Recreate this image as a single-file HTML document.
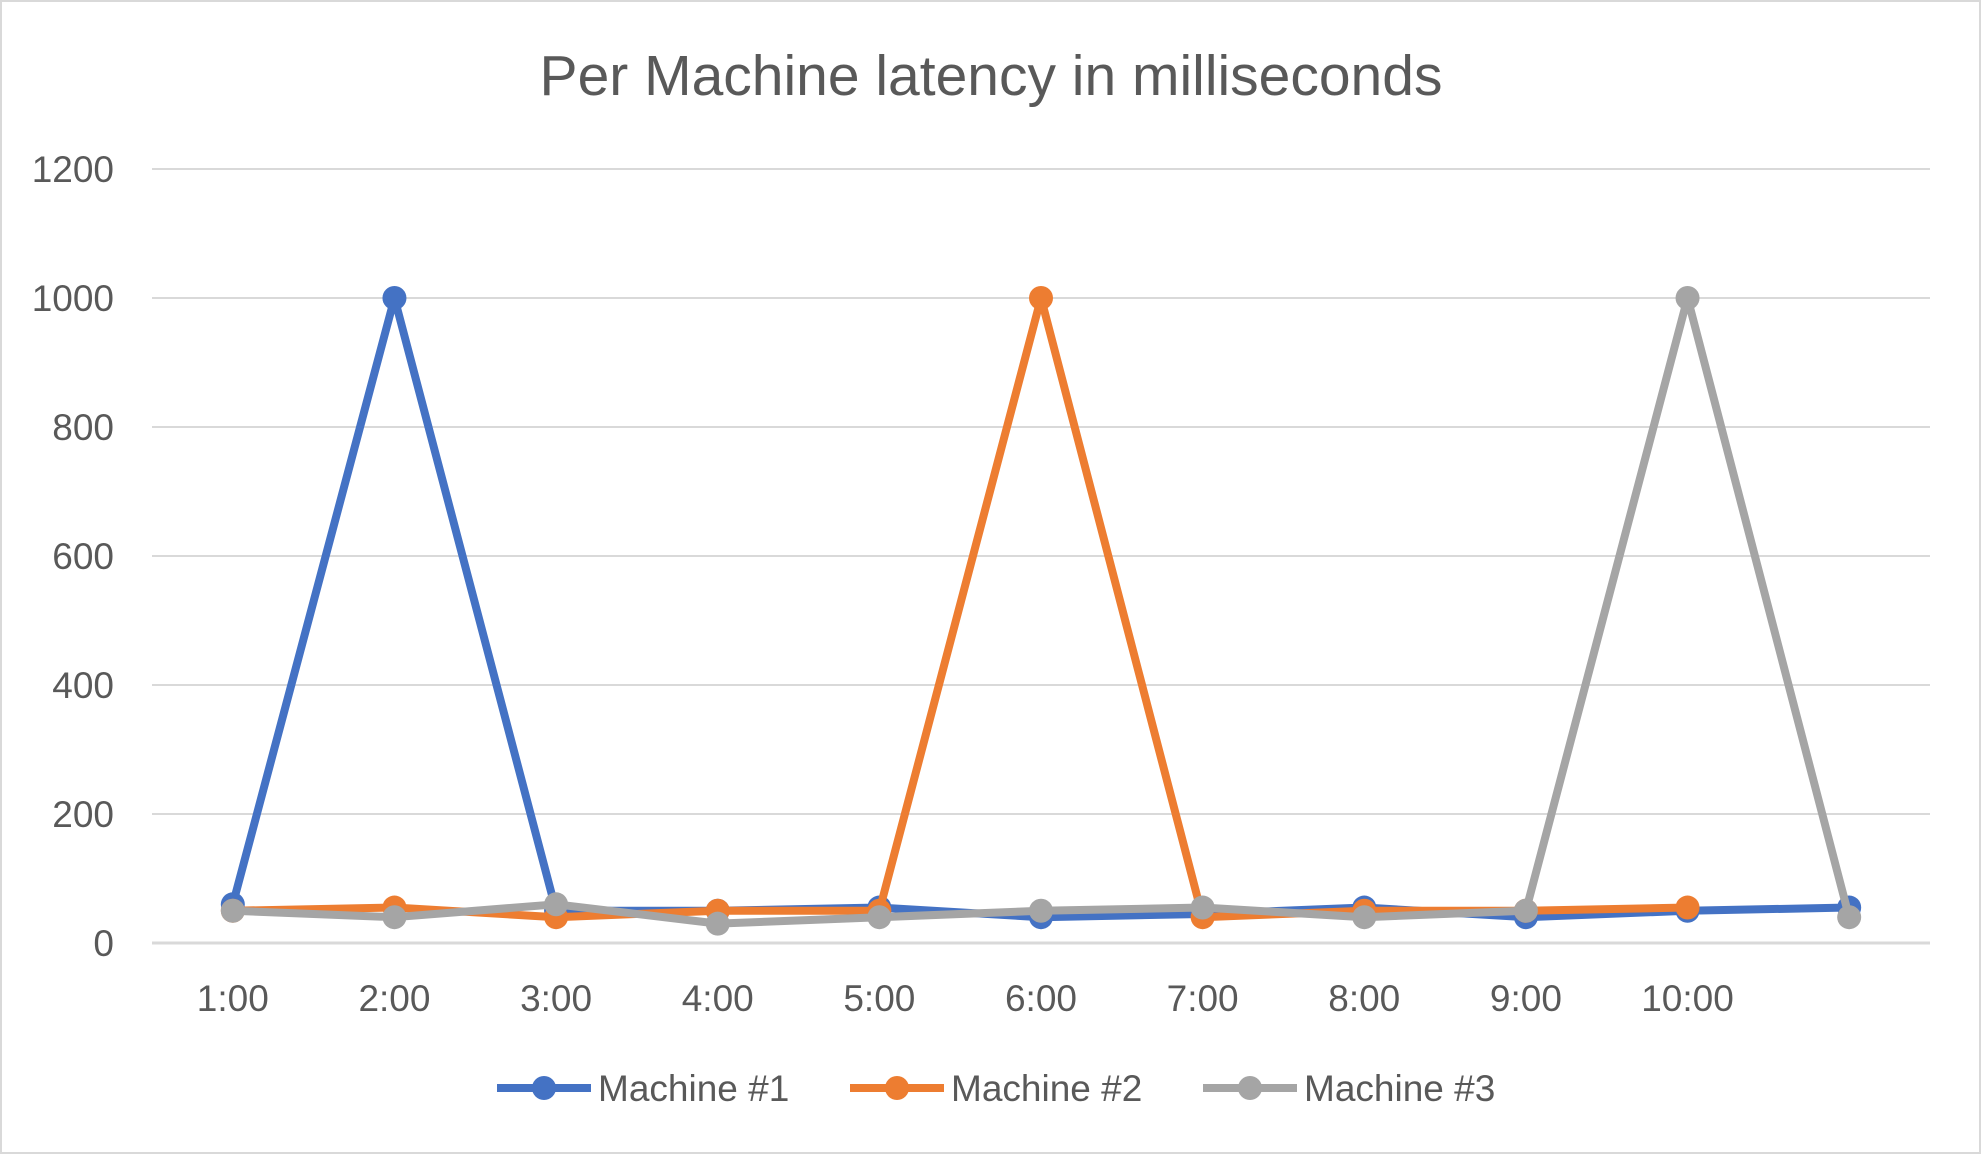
<!DOCTYPE html>
<html><head><meta charset="utf-8"><style>
html,body{margin:0;padding:0;background:#fff}
svg{display:block;font-family:"Liberation Sans",sans-serif}
</style></head><body>
<svg id="chart" width="1982" height="1157" viewBox="0 0 1982 1157">
<rect x="1" y="1" width="1979" height="1152" fill="#fff" stroke="#d9d9d9" stroke-width="2"/>
<text x="991" y="95" text-anchor="middle" font-size="57" fill="#595959">Per Machine latency in milliseconds</text>
<g id="grid"></g><g id="series"></g><g id="legend"></g>
</svg>
<script>
const categories=["1:00","2:00","3:00","4:00","5:00","6:00","7:00","8:00","9:00","10:00",""];
const yTicks=[0,200,400,600,800,1000,1200];
const machine1=[60,1000,50,50,55,40,45,55,40,50,55];
const machine2=[50,55,40,50,50,1000,40,50,50,55,null];
const machine3=[50,40,60,30,40,50,55,40,50,1000,40];
const seriesNames=["Machine #1","Machine #2","Machine #3"];
const colors=["#4472c4","#ed7d31","#a5a5a5"];
const NS="http://www.w3.org/2000/svg";
const x0=152,x1=1930,y0=943,y1=169,yMax=1200;
const step=(x1-x0)/categories.length;
const xs=i=>x0+step*(i+0.5);
const ys=v=>y0-(v/yMax)*(y0-y1);
function mk(t,a,p){const e=document.createElementNS(NS,t);for(const k in a)e.setAttribute(k,a[k]);p.appendChild(e);return e;}
const grid=document.getElementById('grid');
yTicks.forEach(v=>{
 const l=mk('line',{x1:x0,x2:x1,y1:ys(v),y2:ys(v),stroke:'#d9d9d9','stroke-width':v===0?3:2},grid);
 
 
 const t=mk('text',{x:114,y:ys(v)+13,'text-anchor':'end','font-size':37,fill:'#595959'},grid);
 t.textContent=v;
 
 
});
categories.forEach((c,i)=>{
 const t=mk('text',{x:xs(i),y:1011,'text-anchor':'middle','font-size':37,fill:'#595959'},grid);
 t.textContent=c;
 
 
});
const sg=document.getElementById('series');
[machine1,machine2,machine3].forEach((d,s)=>{
 const g=mk('g',{},sg);
 
 
 const pts=d.map((v,i)=>v==null?null:[xs(i),ys(v)]).filter(p=>p);
 const pl=mk('polyline',{points:pts.map(p=>p.join(',')).join(' '),fill:'none',stroke:colors[s],'stroke-width':8,'stroke-linejoin':'round'},g);
 
 
 pts.forEach(p=>{
  const c=mk('circle',{cx:p[0],cy:p[1],r:12,fill:colors[s]},g);
  
  
 });
});
const lg=document.getElementById('legend');
const lx=[497,850,1203];
seriesNames.forEach((n,s)=>{
 const g=mk('g',{},lg);
 
 
 mk('line',{x1:lx[s],x2:lx[s]+94,y1:1088,y2:1088,stroke:colors[s],'stroke-width':8},g);
 mk('circle',{cx:lx[s]+47,cy:1088,r:12,fill:colors[s]},g);
 const t=mk('text',{x:lx[s]+101,y:1101,'font-size':37,fill:'#595959'},g);
 t.textContent=n;
});
</script>
</body></html>
